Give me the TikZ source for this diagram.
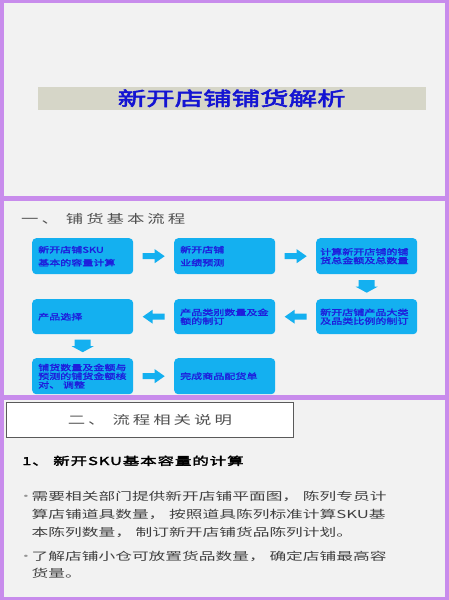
\documentclass[tikz,border=0pt]{standalone}
\usepackage{fontspec}
\usetikzlibrary{calc}
\newfontfamily\titlefont{Noto Sans CJK SC}[FakeStretch=1.5,FakeBold=3]
\newfontfamily\secfont{Noto Sans CJK SC}[FakeStretch=1.45,LetterSpace=25]
\newfontfamily\boxfont{Noto Sans CJK SC}[FakeStretch=1.38,FakeBold=2]
\newfontfamily\headfont{Noto Sans CJK SC}[FakeStretch=1.5,FakeBold=2.5,LetterSpace=8]
\newfontfamily\bodyfont{Noto Sans CJK SC}[FakeStretch=1.52]
\definecolor{purp}{RGB}{200,140,236}
\definecolor{panelbg}{RGB}{242,242,242}
\definecolor{titlebar}{RGB}{214,214,200}
\definecolor{titleblue}{RGB}{20,20,210}
\definecolor{boxcyan}{RGB}{20,176,240}
\definecolor{boxtext}{RGB}{30,30,220}
\definecolor{secgray}{RGB}{80,80,80}
\definecolor{bodygray}{RGB}{64,64,64}
\definecolor{bulletgray}{RGB}{150,150,150}
\definecolor{framegray}{RGB}{90,90,90}
\tikzset{
  panel/.style={fill=panelbg},
  flowbox/.style={fill=boxcyan, rounded corners=4pt, anchor=north west,
    text width=89pt, inner xsep=6pt, inner ysep=0pt, align=left,
    text=boxtext, font=\boxfont\fontsize{8}{8.7}\selectfont},
  blockarrow/.style={fill=boxcyan},
  sectext/.style={text=secgray, inner sep=0pt, font=\secfont\fontsize{12}{12}\selectfont},
  headtext/.style={text=black, inner sep=0pt, anchor=base west, font=\headfont\fontsize{11}{11}\selectfont},
  bodytext/.style={text=bodygray, inner sep=0pt, anchor=base west, font=\bodyfont\fontsize{11}{11}\selectfont},
  bullettext/.style={text=bulletgray, inner sep=0pt, anchor=base, font=\bodyfont\fontsize{11}{11}\selectfont},
}
\begin{document}
\begin{tikzpicture}[x=1pt,y=-1pt]
\fill[purp] (0,0) rectangle (449,600);
\useasboundingbox (0,0) rectangle (449,600);
% panels
\fill[panel] (4,3) rectangle (445,196);
\fill[panel] (4,201) rectangle (445,395);
\fill[panel] (4,400) rectangle (445,597);
% title
\node[fill=titlebar, minimum width=388pt, minimum height=23.3pt, inner sep=0pt,
  text=titleblue, font=\titlefont\fontsize{19}{19}\selectfont] (title) at (231.7,98.3) {新开店铺铺货解析};
% section 1
\node[sectext, anchor=base west] (sec1) at (21,223.5) {一、 铺货基本流程};
% flow boxes
\node[flowbox, minimum height=36pt] (b1) at (32,238) {新开店铺SKU\\[4.3pt]基本的容量计算};
\node[flowbox, minimum height=36pt] (b2) at (174,238) {新开店铺\\[4.3pt]业绩预测};
\node[flowbox, minimum height=36pt, inner xsep=4pt, text width=93pt] (b3) at (316,238) {计算新开店铺的铺\\货总金额及总数量};
\node[flowbox, minimum height=35pt] (b4) at (32,299) {产品选择};
\node[flowbox, minimum height=35pt] (b5) at (174,299) {产品类别数量及金\\额的制订};
\node[flowbox, minimum height=35pt, inner xsep=4pt, text width=93pt] (b6) at (316,299) {新开店铺产品大类\\及品类比例的制订};
\node[flowbox, minimum height=36pt] (b7) at (32,358) {铺货数量及金额与\\预测的铺货金额核\\对、 调整};
\node[flowbox, minimum height=36pt] (b8) at (174,358) {完成商品配货单};
% right arrows
\fill[blockarrow] ($(b1.east)!0.5!(b2.west)$) ++(-11,-3) -- ++(12,0) -- ++(0,-4) -- ++(10,7) -- ++(-10,7) -- ++(0,-4) -- ++(-12,0) -- cycle;
\fill[blockarrow] ($(b2.east)!0.5!(b3.west)$) ++(-11,-3) -- ++(12,0) -- ++(0,-4) -- ++(10,7) -- ++(-10,7) -- ++(0,-4) -- ++(-12,0) -- cycle;
\fill[blockarrow] ($(b7.east)!0.5!(b8.west)$) ++(-11,-3) -- ++(12,0) -- ++(0,-4) -- ++(10,7) -- ++(-10,7) -- ++(0,-4) -- ++(-12,0) -- cycle;
% left arrows
\fill[blockarrow] ($(b6.west)!0.5!(b5.east)$) ++(11,-3) -- ++(-12,0) -- ++(0,-4) -- ++(-10,7) -- ++(10,7) -- ++(0,-4) -- ++(12,0) -- cycle;
\fill[blockarrow] ($(b5.west)!0.5!(b4.east)$) ++(11,-3) -- ++(-12,0) -- ++(0,-4) -- ++(-10,7) -- ++(10,7) -- ++(0,-4) -- ++(12,0) -- cycle;
% down arrows
\fill[blockarrow] ($(b3.south)!0.5!(b6.north)$) ++(-8,-6.5) -- ++(16,0) -- ++(0,6.5) -- ++(3,0) -- ++(-11,6) -- ++(-11,-6) -- ++(3,0) -- cycle;
\fill[blockarrow] ($(b4.south)!0.5!(b7.north)$) ++(-8,-6.5) -- ++(16,0) -- ++(0,6.5) -- ++(3,0) -- ++(-11,6) -- ++(-11,-6) -- ++(3,0) -- cycle;
% section 2
\node[draw=framegray, line width=0.8pt, fill=white, anchor=north west, minimum width=287pt, minimum height=35pt, inner sep=0pt] (sec2box) at (6,402) {};
\node[sectext] (sec2) at (sec2box.center) {二、 流程相关说明};
\node[headtext] (head1) at (22,465) {1、 新开SKU基本容量的计算};
% bullets
\node[bullettext] (dot1) at (26,500) {·};
\node[bodytext] (l1) at (31.5,500) {需要相关部门提供新开店铺平面图， 陈列专员计};
\node[bodytext] (l2) at (31.5,518) {算店铺道具数量， 按照道具陈列标准计算SKU基};
\node[bodytext] (l3) at (31.5,536) {本陈列数量， 制订新开店铺货品陈列计划。};
\node[bullettext] (dot2) at (26,560) {·};
\node[bodytext] (l4) at (31.5,560) {了解店铺小仓可放置货品数量， 确定店铺最高容};
\node[bodytext] (l5) at (31.5,577) {货量。};
\end{tikzpicture}
\end{document}
